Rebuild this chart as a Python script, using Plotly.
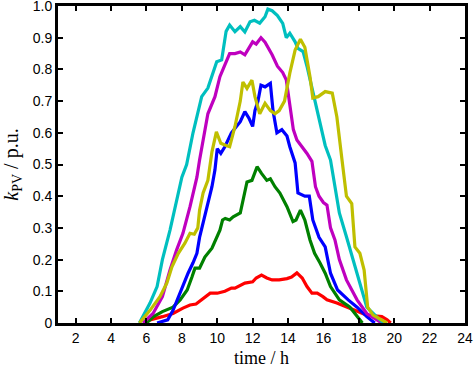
import plotly.graph_objects as go

# ---- data ----
cyan_x = [5.6,6.2,6.6,6.9,7.33,7.7,8.0,8.27,8.63,9.12,9.47,9.97,10.25,10.5,10.7,11.0,11.3,11.56,11.85,12.1,12.4,12.7,12.86,13.1,13.4,13.7,13.9,14.1,14.4,14.56,14.85,15.07,15.35,15.6,15.9,16.1,16.4,16.9,17.3,17.9,18.45,19.0,19.4]
cyan_y = [0,0.063,0.115,0.2,0.293,0.388,0.46,0.5,0.6,0.714,0.741,0.824,0.83,0.92,0.94,0.919,0.935,0.918,0.95,0.955,0.946,0.966,0.99,0.985,0.97,0.945,0.9,0.914,0.887,0.866,0.856,0.81,0.745,0.68,0.61,0.56,0.514,0.347,0.272,0.157,0.05,0.02,0]

mag_x = [5.8,6.37,6.9,7.33,7.7,8.06,8.46,8.85,9.0,9.47,9.87,10.15,10.43,10.7,11.0,11.3,11.56,11.85,12.0,12.2,12.47,12.7,12.86,13.1,13.4,13.7,13.9,14.1,14.3,14.5,14.8,15.07,15.35,15.55,15.75,16.0,16.2,16.4,16.65,16.9,17.3,17.9,18.45,19.0,19.3]
mag_y = [0,0.03,0.083,0.167,0.23,0.283,0.367,0.46,0.514,0.66,0.714,0.777,0.814,0.85,0.85,0.855,0.846,0.871,0.887,0.88,0.9,0.886,0.87,0.846,0.81,0.79,0.767,0.68,0.61,0.577,0.556,0.535,0.51,0.43,0.40,0.38,0.372,0.30,0.262,0.2,0.136,0.073,0.03,0.01,0]

yel_x = [5.6,6.2,6.76,7.15,7.44,7.8,8.17,8.46,8.7,8.9,9.0,9.2,9.47,9.7,9.95,10.2,10.5,10.7,11.0,11.3,11.45,11.68,11.96,12.13,12.4,12.7,13.0,13.26,13.5,13.8,14.1,14.4,14.7,14.95,15.24,15.4,15.7,16.1,16.5,16.76,17.05,17.3,17.6,17.78,18.06,18.3,18.5,18.8,19.6]
yel_y = [0,0.04,0.083,0.126,0.177,0.22,0.252,0.283,0.28,0.30,0.356,0.41,0.45,0.54,0.603,0.567,0.56,0.556,0.62,0.70,0.76,0.74,0.766,0.714,0.66,0.693,0.67,0.66,0.67,0.70,0.788,0.861,0.895,0.87,0.777,0.71,0.714,0.73,0.725,0.65,0.514,0.40,0.377,0.24,0.22,0.167,0.05,0.025,0]

blue_x = [6.6,7.2,7.5,7.8,8.06,8.35,8.63,8.85,9.0,9.2,9.47,9.7,9.87,10.0,10.2,10.43,10.8,11.3,11.56,11.8,12.0,12.13,12.3,12.47,12.7,13.0,13.15,13.37,13.65,13.94,14.1,14.4,14.56,14.95,15.2,15.4,15.75,16.1,16.4,16.8,17.4,17.9,18.45,18.9]
blue_y = [0,0.01,0.04,0.083,0.115,0.157,0.19,0.22,0.27,0.315,0.378,0.43,0.483,0.55,0.535,0.556,0.6,0.635,0.667,0.645,0.62,0.67,0.70,0.75,0.745,0.756,0.67,0.6,0.61,0.59,0.556,0.505,0.41,0.40,0.40,0.325,0.27,0.24,0.157,0.104,0.073,0.05,0.02,0]

green_x = [6.0,6.4,6.9,7.5,7.9,8.3,8.57,8.74,9.0,9.3,9.7,9.98,10.15,10.3,10.45,10.7,10.9,11.3,11.45,11.68,11.96,12.25,12.5,12.8,13.0,13.26,13.54,13.94,14.28,14.45,14.7,14.95,15.24,15.5,15.8,16.1,16.4,16.9,17.5,17.95,18.2]
green_y = [0,0.02,0.036,0.05,0.073,0.104,0.145,0.173,0.173,0.208,0.236,0.268,0.293,0.325,0.33,0.325,0.335,0.347,0.388,0.445,0.45,0.493,0.472,0.45,0.455,0.43,0.41,0.367,0.32,0.325,0.356,0.325,0.262,0.22,0.19,0.157,0.115,0.073,0.05,0.02,0]

red_x = [5.9,6.2,6.9,7.5,8.06,8.46,8.8,9.2,9.6,10.0,10.43,10.8,11.0,11.56,12.0,12.2,12.5,12.8,13.1,13.5,13.94,14.2,14.5,14.8,15.07,15.35,15.65,15.97,16.2,16.76,17.3,17.9,18.45,19.3,19.6,19.8]
red_y = [0,0.01,0.02,0.03,0.047,0.057,0.06,0.078,0.094,0.094,0.1,0.11,0.11,0.126,0.13,0.142,0.151,0.142,0.136,0.136,0.14,0.145,0.158,0.142,0.115,0.094,0.094,0.083,0.073,0.063,0.05,0.036,0.025,0.02,0.01,0]

x_ticks = [2,4,6,8,10,12,14,16,18,20,22,24]
y_ticks = [0,0.1,0.2,0.3,0.4,0.5,0.6,0.7,0.8,0.9,1.0]
y_tick_text = ["0","0.1","0.2","0.3","0.4","0.5","0.6","0.7","0.8","0.9","1.0"]

series = [
    (red_x, red_y, "#ff0000"),
    (green_x, green_y, "#008000"),
    (blue_x, blue_y, "#0000ff"),
    (mag_x, mag_y, "#bf00bf"),
    (cyan_x, cyan_y, "#00bfbf"),
    (yel_x, yel_y, "#bfbf00"),
]

fig = go.Figure()
for xs, ys, col in series:
    fig.add_trace(go.Scatter(x=xs, y=ys, mode="lines",
                             line=dict(color=col, width=3.2), showlegend=False))

axis_common = dict(showline=True, linecolor="black", linewidth=3, mirror="ticks",
                   ticks="inside", ticklen=5, tickwidth=2, tickcolor="black",
                   showgrid=False, zeroline=False, ticklabeloverflow="allow",
                   tickfont=dict(family="Liberation Sans, Arial", size=14, color="black"))

fig.update_layout(
    width=474, height=368,
    margin=dict(l=58, r=9, t=6, b=45),
    paper_bgcolor="white", plot_bgcolor="white",
    xaxis=dict(range=[1, 24], tickvals=x_ticks, automargin=False,
               title=dict(text="time / h", standoff=12,
                          font=dict(family="Liberation Serif, Times New Roman", size=18, color="black")),
               **axis_common),
    yaxis=dict(range=[0, 1], tickvals=y_ticks, ticktext=y_tick_text, automargin=False,
               title=dict(text="<i>k</i><sub>PV</sub> / p.u.", standoff=10,
                          font=dict(family="Liberation Serif, Times New Roman", size=20, color="black")),
               **axis_common),
)

fig.write_html("out.html", config={"displayModeBar": False},
               post_script="document.body.style.margin='0';document.body.style.overflow='hidden';")
